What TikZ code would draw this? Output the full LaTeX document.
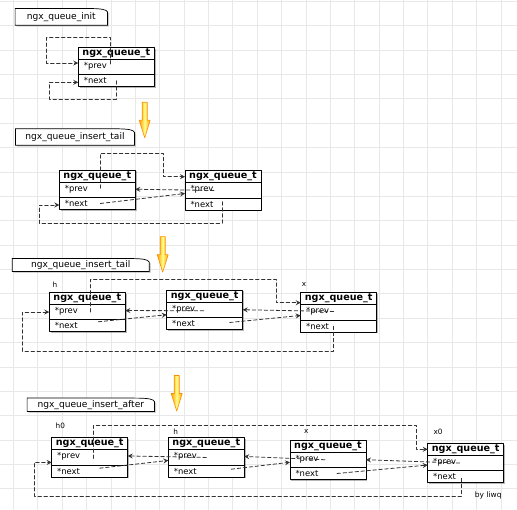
\documentclass[tikz,border=0pt]{standalone}
\usepackage{fontspec}
\setmainfont{DejaVu Sans}
\usepackage{tikz}
\usetikzlibrary{arrows.meta,positioning,shadows,backgrounds}

\begin{document}
\begin{tikzpicture}[line cap=round,line join=round,x=1pt,y=-1pt,
  gridline/.style={draw=black!9,line width=0.6pt},
  qhead/.style={draw,fill=white,line width=0.7pt,minimum width=76pt,
    minimum height=12pt,inner sep=0pt,outer sep=0pt,anchor=north west,
    font=\fontsize{9.6}{10}\selectfont\bfseries},
  qfield/.style={draw,fill=white,line width=0.7pt,text width=65pt,
    inner xsep=5.5pt,inner ysep=0pt,outer sep=0pt,align=left,
    font=\fontsize{8.4}{10}\selectfont},
  qprev/.style={qfield,minimum height=15.5pt,text height=6.3pt,text depth=3.5pt},
  qnext/.style={qfield,minimum height=12pt},
  qshadow/.style={fill=black,opacity=0.28},
  notetext/.style={inner sep=0pt,font=\fontsize{9.1}{10}\selectfont},
  notebox/.style={draw,fill=white,line width=0.7pt,
    drop shadow={shadow xshift=1.5pt,shadow yshift=-1.5pt,opacity=0.35}},
  tag/.style={inner sep=0pt,font=\fontsize{7.3}{8}\selectfont},
  link/.style={draw=black!80,line width=0.8pt,dash pattern=on 3.5pt off 2.5pt,
    -{Stealth[length=5pt,width=5pt,inset=1.8pt]}},
  flowarrow/.style={draw=orange!90!yellow,line width=0.6pt,
    left color=orange!75!yellow,right color=orange!75!yellow,middle color=yellow!45}]
  \useasboundingbox (0,0) rectangle (517,510);
  \begin{scope}[on background layer]
    \fill[white] (0,0) rectangle (517,510);
    \foreach \i in {0,...,20}
      \draw[gridline] ({13.4+24.37*\i},0) -- ({13.4+24.37*\i},510);
    \foreach \j in {0,...,20}
      \draw[gridline] (0,{1.3+24.37*\j}) -- (517,{1.3+24.37*\j});
  \end{scope}

  % step labels
  \node[notetext,minimum width=92pt,minimum height=16.3pt] (l1) at (61.3,16.85) {ngx\_queue\_init};
  \node[notetext,minimum width=118.6pt,minimum height=16pt] (l2) at (75,137) {ngx\_queue\_insert\_tail};
  \node[notetext,minimum width=136.7pt,minimum height=12.5pt] (l3) at (80.7,265) {ngx\_queue\_insert\_tail};
  \node[notetext,minimum width=127pt,minimum height=13pt] (l4) at (90.8,404.8) {ngx\_queue\_insert\_after};
  \begin{scope}[on background layer]
    \foreach \n in {l1,l2,l3,l4}
      \draw[notebox] (\n.south west) -- (\n.north west) -- ([xshift=-20pt]\n.north east)
        .. controls ([xshift=-6pt]\n.north east) and ([xshift=-1pt,yshift=-1pt]\n.north east)
        .. ([yshift=-3.5pt]\n.north east) -- (\n.south east) -- cycle;
  \end{scope}

  % orange step arrows
  \foreach \ax/\ay in {144.7/102.3,162.7/236.7,176.7/375.5}
    \draw[flowarrow] ({\ax-2.5},\ay) -- ({\ax+2.5},\ay) -- ({\ax+2.5},{\ay+18})
      -- ({\ax+5.5},{\ay+18}) -- (\ax,{\ay+35.5}) -- ({\ax-5.5},{\ay+18})
      -- ({\ax-2.5},{\ay+18}) -- cycle;

  % ngx_queue_init
  \node[qhead] (s1) at (78.3,47.3) {ngx\_queue\_t};
  \node[qprev,below=0pt of s1] (s1-p) {*prev};
  \node[qnext,below=0pt of s1-p] (s1-n) {*next};
  \draw[link] ([xshift=32pt,yshift=3pt]s1-p.west) |- (46.7,37.3) |- ([yshift=4pt]s1-p.west);
  \draw[link] ([xshift=38pt]s1-n.west) |- (49.3,99) |- ([yshift=-1.5pt]s1-n.west);

  % ngx_queue_insert_tail, two nodes
  \node[qhead] (s2a) at (59.3,170) {ngx\_queue\_t};
  \node[qprev,below=0pt of s2a] (s2a-p) {*prev};
  \node[qnext,below=0pt of s2a-p] (s2a-n) {*next};
  \node[qhead] (s2b) at (185,170.7) {ngx\_queue\_t};
  \node[qprev,below=0pt of s2b] (s2b-p) {*prev};
  \node[qnext,below=0pt of s2b-p] (s2b-n) {*next};
  \draw[link] ([xshift=41pt,yshift=1.5pt]s2a-p.west) |- (163.3,153.3) |- (s2b.west);
  \draw[link] ([xshift=29pt]s2b-p.west) -- ([yshift=0.5pt]s2a-p.east);
  \draw[link] ([xshift=41pt]s2a-n.west) -- ([yshift=-3pt]s2b-p.west);
  \draw[link] ([xshift=37pt,yshift=2.5pt]s2b-n.west) |- (39.3,223.3) |- ([yshift=-1.5pt]s2a-n.west);

  % ngx_queue_insert_tail, three nodes
  \node[tag] (s3h-tag) at (55,284.3) {h};
  \node[tag] (s3x-tag) at (304,284.3) {x};
  \node[qhead] (s3h) at (49.3,292.3) {ngx\_queue\_t};
  \node[qprev,below=0pt of s3h] (s3h-p) {*prev};
  \node[qnext,below=0pt of s3h-p] (s3h-n) {*next};
  \node[qhead] (s3m) at (166.7,290) {ngx\_queue\_t};
  \node[qprev,below=0pt of s3m] (s3m-p) {*prev};
  \node[qnext,below=0pt of s3m-p] (s3m-n) {*next};
  \node[qhead] (s3x) at (300.7,292.7) {ngx\_queue\_t};
  \node[qprev,below=0pt of s3x] (s3x-p) {*prev};
  \node[qnext,below=0pt of s3x-p] (s3x-n) {*next};
  \draw[link] ([xshift=41pt]s3h-p.west) |- (276,279.3) |- ([yshift=-4pt]s3x.west);
  \draw[link] ([xshift=37pt,yshift=-1pt]s3m-p.west) -- ([yshift=1.5pt]s3h-p.east);
  \draw[link] ([xshift=49pt,yshift=4pt]s3h-n.west) -- ([yshift=-5pt]s3m-p.west);
  \draw[link] ([xshift=33pt,yshift=1pt]s3x-p.west) -- (s3m-p.east);
  \draw[link] ([xshift=63pt,yshift=1pt]s3m-n.west) -- ([yshift=-3pt]s3x-p.west);
  \draw[link] ([xshift=33pt]s3x-n.west) |- (22.3,351) |- (s3h-p.west);

  % ngx_queue_insert_after
  \node[tag] (s4h0-tag) at (60.3,425.7) {h0};
  \node[tag] (s4h-tag) at (175.7,431.7) {h};
  \node[tag] (s4x-tag) at (306.3,431.7) {x};
  \node[tag] (s4x0-tag) at (438,431.7) {x0};
  \node[qhead] (s4h0) at (51.7,437.7) {ngx\_queue\_t};
  \node[qprev,below=0pt of s4h0] (s4h0-p) {*prev};
  \node[qnext,below=0pt of s4h0-p] (s4h0-n) {*next};
  \node[qhead] (s4h) at (168.3,437.7) {ngx\_queue\_t};
  \node[qprev,below=0pt of s4h] (s4h-p) {*prev};
  \node[qnext,below=0pt of s4h-p] (s4h-n) {*next};
  \node[qhead] (s4x) at (290,440) {ngx\_queue\_t};
  \node[qprev,below=0pt of s4x] (s4x-p) {*prev};
  \node[qnext,below=0pt of s4x-p] (s4x-n) {*next};
  \node[qhead] (s4x0) at (427.7,443.3) {ngx\_queue\_t};
  \node[qprev,below=0pt of s4x0] (s4x0-p) {*prev};
  \node[qnext,below=0pt of s4x0-p] (s4x0-n) {*next};
  \draw[link] ([xshift=42pt,yshift=-1pt]s4h0-p.west) |- (416,425) |- (s4x0.west);
  \draw[link] ([xshift=38pt]s4h-p.west) -- ([yshift=1.5pt]s4h0-p.east);
  \draw[link] ([xshift=48pt,yshift=3pt]s4h0-n.west) -- ([yshift=-3pt]s4h-p.west);
  \draw[link] ([xshift=35pt]s4x-p.west) -- ([yshift=1pt]s4h-p.east);
  \draw[link] ([xshift=63pt,yshift=2pt]s4h-n.west) -- ([yshift=-2.5pt]s4x-p.west);
  \draw[link] ([xshift=32pt]s4x0-p.west) -- (s4x-p.east);
  \draw[link] ([xshift=47pt]s4x-n.west) -- ([yshift=-2pt]s4x0-p.west);
  \draw[link] ([xshift=34pt,yshift=-1.5pt]s4x0-n.west) |- (34.3,496) |- ([yshift=-5pt]s4h0-p.west);

  % box shadows
  \begin{scope}[on background layer]
    \foreach \b in {s1,s2a,s2b,s3h,s3m,s3x,s4h0,s4h,s4x,s4x0}
      \fill[qshadow] ([shift={(1.3pt,-1.3pt)}]\b.north west) rectangle ([shift={(1.3pt,-1.3pt)}]\b-n.south east);
  \end{scope}

  \node[tag,font=\fontsize{7.5}{8}\selectfont] (sign) at (488.3,495.7) {by liwq};
\end{tikzpicture}
\end{document}
